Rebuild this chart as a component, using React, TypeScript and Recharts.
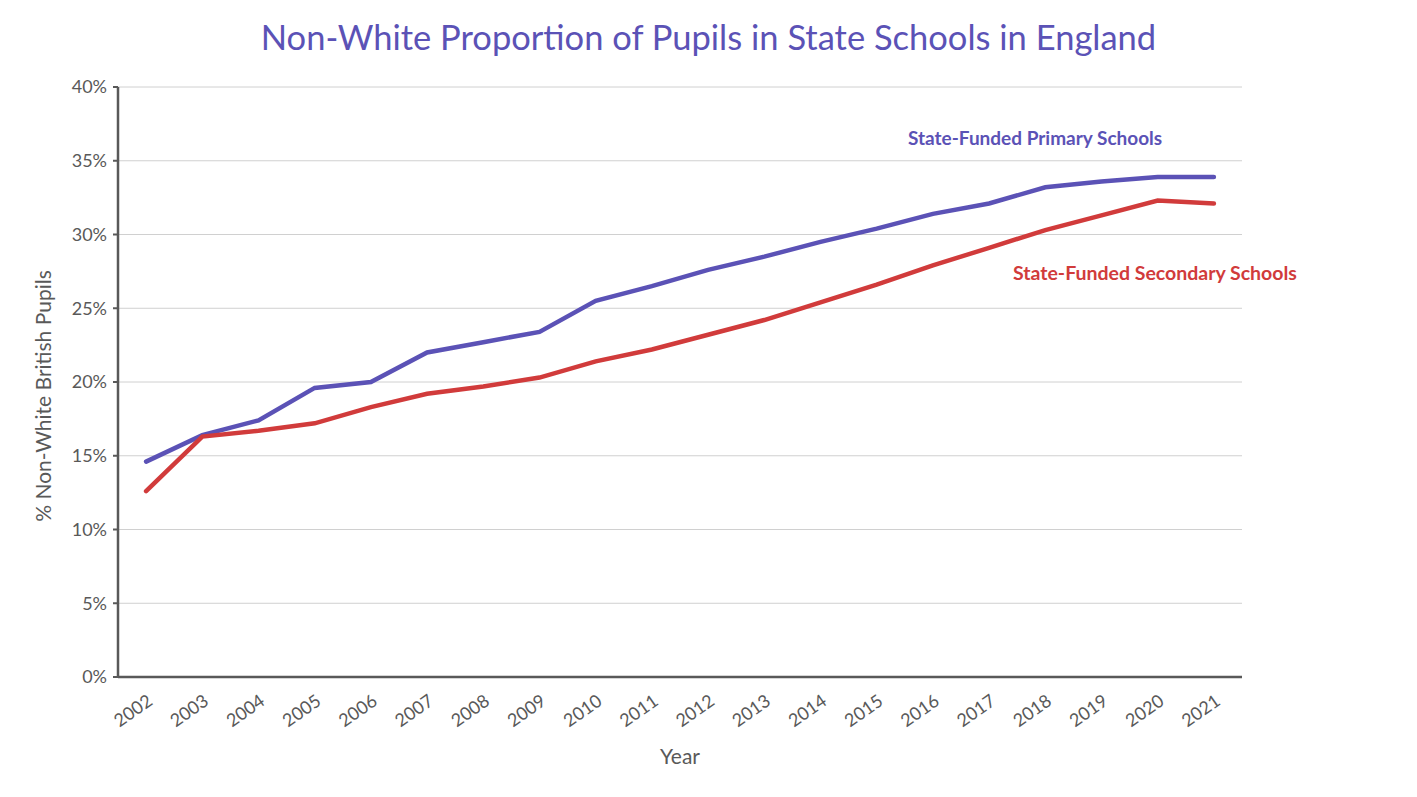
import React from "react";
import { LineChart, Line, XAxis, YAxis, CartesianGrid } from "recharts";

const years = [
  "2002", "2003", "2004", "2005", "2006", "2007", "2008", "2009", "2010", "2011",
  "2012", "2013", "2014", "2015", "2016", "2017", "2018", "2019", "2020", "2021",
];
const primary = [
  14.6, 16.4, 17.4, 19.6, 20.0, 22.0, 22.7, 23.4, 25.5, 26.5,
  27.6, 28.5, 29.5, 30.4, 31.4, 32.1, 33.2, 33.6, 33.9, 33.9,
];
const secondary = [
  12.6, 16.3, 16.7, 17.2, 18.3, 19.2, 19.7, 20.3, 21.4, 22.2,
  23.2, 24.2, 25.4, 26.6, 27.9, 29.1, 30.3, 31.3, 32.3, 32.1,
];
const yTicks = [0, 5, 10, 15, 20, 25, 30, 35, 40];
const bandEdges = years.map((_, i) => i).concat([years.length]);

const data = years.map((year, i) => ({
  year,
  idx: i + 0.5,
  primary: primary[i],
  secondary: secondary[i],
}));

const FONT = "Lato, 'Open Sans', sans-serif";
const GREY = "#595959";
const PURPLE = "#5B52B6";
const RED = "#D13B3B";

const YearTick = (props: any) => {
  const { x, y, payload } = props;
  return (
    <g transform={`translate(${x + 5},${y + 14})`}>
      <text
        transform="rotate(-35)"
        textAnchor="end"
        dominantBaseline="middle"
        fill={GREY}
        fontSize={18}
        fontFamily={FONT}
      >
        {payload.value}
      </text>
    </g>
  );
};

export default function App() {
  return (
    <div style={{ position: "absolute", left: 0, top: 0, width: 1417, height: 797, background: "#fff", fontFamily: FONT }}>
      <div
        style={{
          position: "absolute",
          left: 0,
          width: 1417,
          top: 16,
          textAlign: "center",
          fontSize: 34.5,
          color: PURPLE,
        }}
      >
        Non-White Proportion of Pupils in State Schools in England
      </div>
      <div
        style={{
          position: "absolute",
          left: 908,
          top: 126,
          fontSize: 19,
          fontWeight: 700,
          color: PURPLE,
          whiteSpace: "nowrap",
        }}
      >
        State-Funded Primary Schools
      </div>
      <div
        style={{
          position: "absolute",
          left: 1013,
          top: 261,
          fontSize: 19.5,
          fontWeight: 700,
          color: RED,
          whiteSpace: "nowrap",
        }}
      >
        State-Funded Secondary Schools
      </div>
      <div
        style={{
          position: "absolute",
          left: 680,
          top: 743,
          transform: "translateX(-50%)",
          fontSize: 21,
          color: GREY,
        }}
      >
        Year
      </div>
      <div
        style={{
          position: "absolute",
          left: 42,
          top: 396,
          transform: "translate(-50%,-50%) rotate(-90deg)",
          fontSize: 21,
          color: GREY,
          whiteSpace: "nowrap",
        }}
      >
        % Non-White British Pupils
      </div>
      <LineChart
        width={1417}
        height={797}
        data={data}
        margin={{ top: 87, right: 175, bottom: 59, left: 58 }}
        style={{ position: "absolute", left: 0, top: 0 }}
      >
        <CartesianGrid xAxisId="years" vertical={false} stroke="#D0D0D0" strokeWidth={1} />
        <XAxis
          xAxisId="edges"
          type="number"
          dataKey="idx"
          domain={[0, years.length]}
          ticks={bandEdges}
          tick={false}
          tickLine={{ stroke: GREY, strokeWidth: 2 }}
          tickSize={7}
          axisLine={{ stroke: GREY, strokeWidth: 2.5 }}
          height={1}
        />
        <XAxis
          xAxisId="years"
          dataKey="year"
          scale="band"
          tick={<YearTick />}
          tickLine={false}
          axisLine={false}
          interval={0}
          height={60}
        />
        <YAxis
          domain={[0, 40]}
          ticks={yTicks}
          tickFormatter={(v: number) => `${v}%`}
          tick={{ fill: GREY, fontSize: 18, fontFamily: FONT }}
          tickLine={{ stroke: GREY, strokeWidth: 2 }}
          tickSize={5}
          tickMargin={6}
          axisLine={{ stroke: GREY, strokeWidth: 2.5 }}
          width={60}
        />
        <Line
          xAxisId="years"
          type="linear"
          dataKey="primary"
          stroke={PURPLE}
          strokeWidth={4.5}
          strokeLinecap="round"
          dot={false}
          isAnimationActive={false}
        />
        <Line
          xAxisId="years"
          type="linear"
          dataKey="secondary"
          stroke={RED}
          strokeWidth={4.5}
          strokeLinecap="round"
          dot={false}
          isAnimationActive={false}
        />
      </LineChart>
    </div>
  );
}
